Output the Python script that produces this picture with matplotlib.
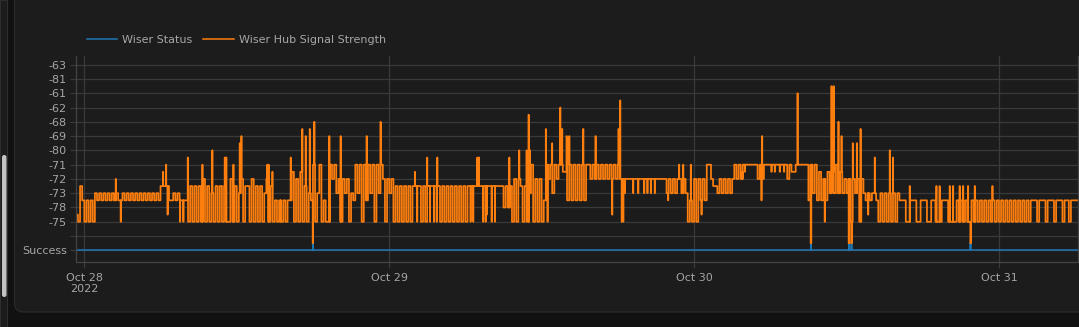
import numpy as np
import matplotlib
matplotlib.use("Agg")
import matplotlib.pyplot as plt
from matplotlib.patches import FancyBboxPatch, Rectangle

plt.rcParams['path.simplify'] = False

# --- данные ---
# категории оси Y снизу вверх; подписи стоят только на чётных строках
tick_rows = [0, 2, 4, 6, 8, 10, 12, 14, 16, 18, 20, 22, 24, 26]
tick_labels = ['Success', '', '-75', '-78', '-73', '-72', '-71', '-80',
               '-69', '-68', '-62', '-61', '-81', '-63']
UNAVAILABLE_ROW = 1   # общая строка "unavailable" для обоих рядов

day_ticks = [0, 24, 48, 72]   # часы от 28 окт 00:00
day_labels = ['Oct 28\n2022', 'Oct 29', 'Oct 30', 'Oct 31']

# уровень сигнала по 10-минутным интервалам, начиная с 27 окт 23:20
# символ = номер строки в base36 ('4' -> -75, 'a' -> -72, 'c' -> -71 ...)
slot_start_h = -40 / 60
slot_h = 10 / 60
signal_runs = [
    "549747474", "878787878787", "7", "878787878787878787", "9999",
    "77878", "7777", "4949494", "a49484", "949494", "4a4948a49",
    "94a49494", "8a494", "74747477", "b4a4b4948", "7c48c474",
    "4cac8a4a8a48", "7c8c4c7c8c4c8c", "a4a8a4", "949", "494949", "999",
    "494", "999999", "49494949494949", "9999999999999999", "6969",
    "4a4a94948c4a4a4", "7cac8cacc", "bb7c7c7c7c7c", "cacacacacacacaca",
    "aaaaaaaaaaaaaaaaaaaa", "a8a8a8a", "a8a8474a4a7a7cca", "998a8a8a8a",
    "cacacccccccacacccccccccc", "cacbbcccccc", "7c8c", "7b7a7b8",
    "b8c8b8a8", "a4a8a4a", "8787887", "4848484848",
    "77744777447774477444777444", "474747447474747",
    "4747474747474747474", "7477747774777477747747", "777",
]

# короткие выбросы (час, строка)
signal_spikes = [
    (2.47, 'a'), (2.86, '4'), (6.19, 'b'), (6.43, 'c'), (6.55, '5'),
    (7.53, '4'), (7.79, '4'), (8.14, 'd'), (9.29, 'c'), (10.07, 'e'),
    (11.05, 'd'), (11.17, 'd'), (11.73, 'c'), (12.23, 'f'), (12.36, 'g'),
    (14.4, 'c'), (14.5, 'c'), (14.8, 'b'), (15.19, '4'), (15.45, '4'),
    (15.66, '4'), (15.85, '4'), (16.24, 'd'), (17.16, 'h'), (17.42, 'g'),
    (17.74, 'h'), (18.1, 'i'), (19.28, 'g'), (20.17, 'g'), (22.22, 'g'),
    (23.32, 'i'), (26.02, 'b'), (26.2, '4'), (26.99, 'd'), (27.2, '4'),
    (27.52, '4'), (27.73, '4'), (27.78, 'd'), (30.4, '4'), (30.61, '4'),
    (30.93, 'd'), (31.06, 'd'), (31.4, '4'), (31.59, '4'), (31.67, '5'),
    (32.06, '4'), (32.32, '4'), (33.45, 'd'), (34.23, 'e'), (34.81, 'e'),
    (34.97, 'j'), (35.07, 'e'), (36.33, 'h'), (36.46, '4'), (36.83, 'f'),
    (37.46, 'k'), (37.61, 'h'), (37.96, 'g'), (38.17, 'g'), (39.27, 'h'),
    (40.24, 'g'), (41.55, '5'), (42.05, 'h'), (42.18, 'l'), (42.3, '4'),
    (42.42, '4'), (42.55, '8'), (43.2, '8'), (43.6, '8'), (44.07, '8'),
    (44.33, '8'), (44.59, '8'), (44.9, '8'), (45.95, '7'), (46.82, 'c'),
    (47.14, 'c'), (47.74, 'c'), (48.58, '5'), (51.8, 'b'), (52.0, 'b'),
    (53.3, '7'), (53.35, 'g'), (54.09, 'b'), (54.35, 'b'), (54.74, 'b'),
    (55.08, 'b'), (56.14, 'm'), (58.28, '4'), (58.81, 'n'), (58.99, 'n'),
    (59.36, 'i'), (59.6, 'g'), (60.49, 'f'), (60.81, 'f'), (61.1, 'h'),
    (61.7, '5'), (62.22, 'd'), (63.4, 'e'), (63.66, 'd'), (64.97, '9'),
    (67.07, '9'), (67.33, '9'), (68.12, '9'), (68.38, '9'), (68.9, '9'),
    (69.17, '9'), (69.56, '9'), (70.09, '9'), (71.48, '9'),
]

# моменты, когда хаб был недоступен (оба ряда уходят в "unavailable")
unavailable_hours = [17.98, 57.18, 60.17, 60.38, 69.75]

end_h = 78.2
spike_len = 0.02
gap_len = 0.05

# --- сборка ступенчатых рядов ---
codes = "".join(signal_runs)
base_t = slot_start_h + np.arange(len(codes)) * slot_h
base_v = np.array([int(c, 36) for c in codes])


def base_at(t):
    i = np.searchsorted(base_t, t, side='right') - 1
    return base_v[max(i, 0)]


pts = list(zip(base_t, base_v))
for h, c in signal_spikes:
    pts += [(h, int(c, 36)), (h + spike_len, base_at(h + spike_len))]
for h in unavailable_hours:
    pts += [(h, UNAVAILABLE_ROW), (h + gap_len, base_at(h + gap_len))]
pts.sort(key=lambda p: p[0])
pts.append((end_h, pts[-1][1]))
sig_t = [p[0] for p in pts]
sig_v = [p[1] for p in pts]

stat_t = [slot_start_h]
stat_v = [0]
for h in unavailable_hours:
    stat_t += [h, h + gap_len]
    stat_v += [UNAVAILABLE_ROW, 0]
stat_t.append(end_h)
stat_v.append(0)

# --- рисуем ---
W, H = 1079, 327
fig = plt.figure(figsize=(W / 100, H / 100), dpi=100, facecolor='#111111')

# левая панель со скроллбаром и карточка (под осями)
fig.patches.append(Rectangle((0, 0), 6.5, H, transform=None, zorder=-10,
                             facecolor='#1c1c1c', edgecolor='#2e2e2e', lw=0.8))
fig.patches.append(FancyBboxPatch((2, H - 297), 4.5, 142, transform=None, zorder=-9,
                                  boxstyle='round,pad=0,rounding_size=2.2',
                                  facecolor='#c4c4c4', edgecolor='none'))
fig.patches.append(FancyBboxPatch((14.5, H - 312), 1100, 400, transform=None, zorder=-10,
                                  boxstyle='round,pad=0,rounding_size=9',
                                  facecolor='#1c1c1c', edgecolor='#2c2c2c', lw=0.8))

ax = fig.add_axes([75.7 / W, 1 - 261.7 / H, (1077.7 - 75.7) / W, (261.7 - 55.5) / H])
ax.set_facecolor('#1c1c1c')

ax.plot(stat_t, stat_v, drawstyle='steps-post', color='#1f77b4', lw=1.1,
        label='Wiser Status')
ax.plot(sig_t, sig_v, drawstyle='steps-post', color='#ff7f0e', lw=1.25,
        label='Wiser Hub Signal Strength')

ax.set_xlim(-0.677, end_h)
ax.set_ylim(-1.6, 27.3)
ax.set_yticks(tick_rows)
ax.set_yticklabels(tick_labels)
ax.set_xticks(day_ticks)
ax.set_xticklabels(day_labels)

grid_c = '#3a3a3a'
text_c = '#a6a6a6'
ax.grid(True, color=grid_c, lw=0.9)
ax.set_axisbelow(True)
ax.tick_params(axis='y', length=4, width=0.9, color=grid_c, pad=2.5,
               labelsize=8, labelcolor=text_c)
ax.tick_params(axis='x', length=4, width=0.9, color=grid_c, pad=4,
               labelsize=8, labelcolor=text_c)
for lab in ax.get_xticklabels():
    lab.set_linespacing(1.15)
ax.spines['top'].set_visible(False)
for s in ('left', 'bottom', 'right'):
    ax.spines[s].set_color('#444444')
    ax.spines[s].set_linewidth(0.9)

leg = fig.legend(loc='center left', bbox_to_anchor=(81 / W, 1 - 40 / H), ncol=2,
                 frameon=False, fontsize=8, labelcolor=text_c, borderpad=0,
                 handlelength=2.75, handletextpad=0.45, columnspacing=1.0)
for line in leg.get_lines():
    line.set_linewidth(1.1)

fig.savefig('out.png', dpi=100, facecolor=fig.get_facecolor())
